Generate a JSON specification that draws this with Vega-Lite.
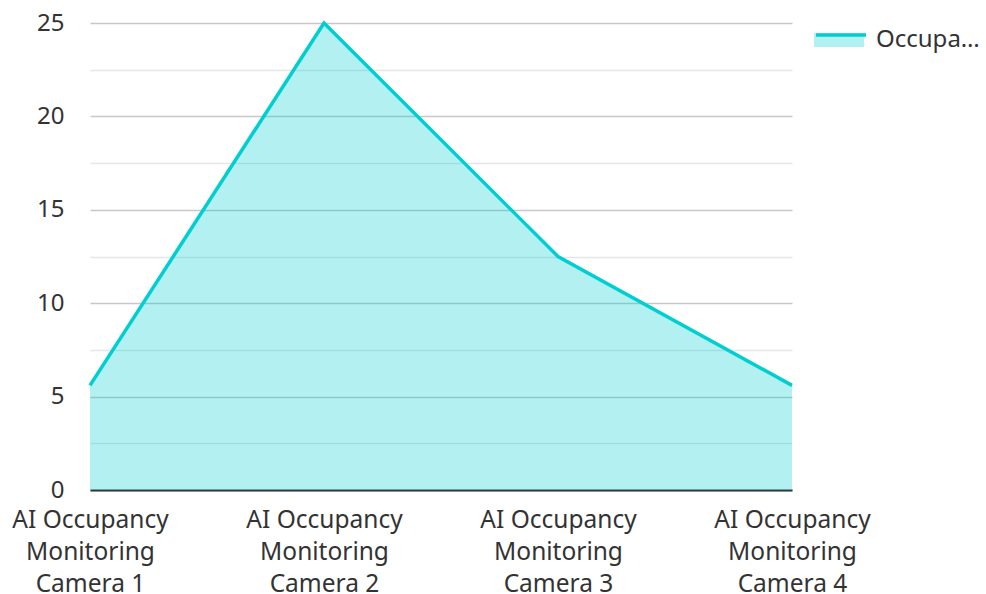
{
  "$schema": "https://vega.github.io/schema/vega-lite/v6.json",
  "width": 702,
  "height": 467,
  "autosize": "none",
  "padding": {"left": 90, "top": 23, "right": 194, "bottom": 104},
  "config": {"font": "Noto Sans", "view": {"stroke": null}},
  "data": {"values": [
    {"camera": "AI Occupancy Monitoring Camera 1", "occupancy": 5.6, "series": "Occupancy Count"},
    {"camera": "AI Occupancy Monitoring Camera 2", "occupancy": 25, "series": "Occupancy Count"},
    {"camera": "AI Occupancy Monitoring Camera 3", "occupancy": 12.5, "series": "Occupancy Count"},
    {"camera": "AI Occupancy Monitoring Camera 4", "occupancy": 5.6, "series": "Occupancy Count"}
  ]},
  "encoding": {
    "x": {
      "field": "camera", "type": "ordinal", "sort": null,
      "scale": {"type": "point", "padding": 0},
      "axis": {
        "title": null, "labelAngle": 0, "grid": false, "ticks": false,
        "domainColor": "#333333", "domainWidth": 2,
        "labelFontSize": 24.5, "labelColor": "#333333", "labelPadding": 18,
        "labelLineHeight": 32, "labelBaseline": "top",
        "labelExpr": "['AI Occupancy', 'Monitoring', replace(datum.label, 'AI Occupancy Monitoring ', '')]"
      }
    },
    "y": {
      "field": "occupancy", "type": "quantitative",
      "scale": {"domain": [0, 25], "nice": false},
      "axis": {
        "title": null, "domain": false, "ticks": false,
        "values": [0, 2.5, 5, 7.5, 10, 12.5, 15, 17.5, 20, 22.5, 25],
        "labelExpr": "datum.value % 5 === 0 ? datum.label : ''",
        "gridColor": {"condition": {"test": "datum.value % 5 === 0", "value": "#c8c8c8"}, "value": "#e6e6e6"},
        "gridWidth": 1.5,
        "labelFontSize": 24, "labelColor": "#333333", "labelPadding": 26
      }
    }
  },
  "layer": [
    {
      "mark": {"type": "area", "opacity": 0.3},
      "encoding": {
        "fill": {
          "field": "series", "type": "nominal",
          "scale": {"range": ["#00CED1"]},
          "legend": {
            "title": null, "orient": "none", "legendX": 724, "legendY": -8,
            "symbolType": "M-1,-0.28L1,-0.28L1,0.28L-1,0.28Z",
            "symbolSize": 2500, "symbolOpacity": 0.3, "symbolStrokeWidth": 0,
            "labelFontSize": 24, "labelColor": "#333333", "labelLimit": 110, "labelOffset": 12
          }
        }
      }
    },
    {
      "mark": {"type": "line", "strokeWidth": 3.5},
      "encoding": {
        "stroke": {
          "field": "series", "type": "nominal",
          "scale": {"domain": ["Occupancy Count"], "range": ["#00CED1"]},
          "legend": {
            "title": null, "orient": "none", "legendX": 724, "legendY": -8,
            "symbolType": "M-1,-0.28L1,-0.28",
            "symbolSize": 2500, "symbolStrokeWidth": 3.5, "symbolOpacity": 1,
            "labelFontSize": 24, "labelExpr": "''", "labelOffset": 12
          }
        }
      }
    }
  ]
}
